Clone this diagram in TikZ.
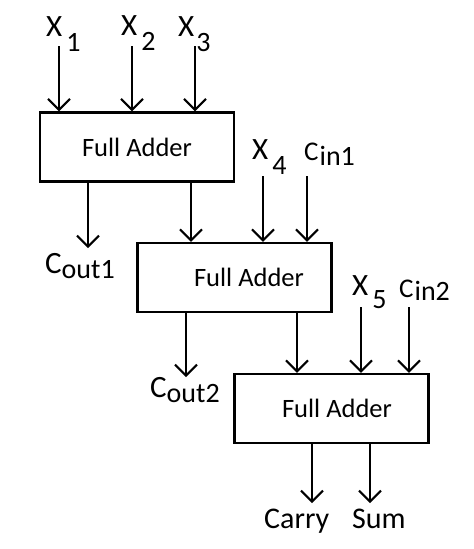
\documentclass[tikz,border=0pt]{standalone}
\usepackage{fontspec}
\setmainfont{Carlito}
\usetikzlibrary{arrows.meta}
\newcommand{\subsz}{\fontsize{28}{32}\selectfont}
\begin{document}
\begin{tikzpicture}[x=1pt,y=-1pt,
  box/.style={draw, line width=2.4pt, minimum width=194pt, minimum height=69pt, inner sep=0pt},
  fatext/.style={font=\fontsize{26.5}{30}\selectfont, inner sep=0pt},
  lbl/.style={font=\fontsize{31}{36}\selectfont, inner sep=0pt, anchor=base west},
  wlbl/.style={font=\fontsize{30}{34}\selectfont, inner sep=0pt, anchor=base west},
  clbl/.style={font=\fontsize{31}{36}\selectfont, inner sep=0pt, anchor=base west},
  cinlbl/.style={font=\fontsize{27}{32}\selectfont, inner sep=0pt, anchor=base west},
  arr/.style={line width=2pt, -{Straight Barb[length=11pt,width=22pt,line width=2pt]}}]
\useasboundingbox (0,0) rectangle (474,549);
% boxes
\node[box] (fa1) at (137,147) {};
\node[box] (fa2) at (234.5,277.5) {};
\node[box] (fa3) at (331.5,408.5) {};
\node[fatext] (t1) at (137,147) {Full Adder};
\node[fatext] (t2) at (249,277) {Full Adder};
\node[fatext] (t3) at (337,408) {Full Adder};
% input labels
\node[lbl] (x1) at (46,36) {X\hspace{4pt}\raisebox{-15pt}{\subsz 1}};
\node[lbl] (x2) at (121,35) {X\hspace{4pt}\raisebox{-15pt}{\subsz 2}};
\node[lbl] (x3) at (178,36) {X\hspace{2pt}\raisebox{-15pt}{\subsz 3}};
\node[lbl] (x4) at (252,159) {X\hspace{4pt}\raisebox{-15pt}{\subsz 4}};
\node[lbl] (x5) at (352,295) {X\hspace{4pt}\raisebox{-13pt}{\subsz 5}};
\node[cinlbl] (cin1) at (304,160) {C\hspace{1pt}\raisebox{-5pt}{\subsz in1}};
\node[cinlbl] (cin2) at (399,297) {C\hspace{1pt}\raisebox{-3pt}{\subsz in2}};
\node[clbl] (cout1) at (45,273) {C\raisebox{-5pt}{\subsz out1}};
\node[clbl] (cout2) at (150,397) {C\raisebox{-5pt}{\subsz out2}};
\node[wlbl] (carry) at (264,528) {Carry};
\node[wlbl] (sum) at (352,528) {Sum};
% arrow start / end points
\coordinate (a1) at (59,46);
\coordinate (a2) at (132,46);
\coordinate (a3) at (195,46);
\coordinate (a4) at (263,176);
\coordinate (a5) at (307,176);
\coordinate (a6) at (361,307);
\coordinate (a7) at (409,307);
\coordinate (o1) at (88,182);
\coordinate (e1) at (88,248);
\coordinate (o2) at (191,182);
\coordinate (o3) at (186,312);
\coordinate (e3) at (186,377);
\coordinate (o4) at (297,312);
\coordinate (o5) at (312,443);
\coordinate (e5) at (312,503);
\coordinate (o6) at (370,443);
\coordinate (e6) at (370,503);
% connectors
\draw[arr] (a1) -- (a1 |- fa1.north);
\draw[arr] (a2) -- (a2 |- fa1.north);
\draw[arr] (a3) -- (a3 |- fa1.north);
\draw[arr] (o1 |- fa1.south) -- (e1);
\draw[arr] (o2 |- fa1.south) -- (o2 |- fa2.north);
\draw[arr] (a4) -- (a4 |- fa2.north);
\draw[arr] (a5) -- (a5 |- fa2.north);
\draw[arr] (o3 |- fa2.south) -- (e3);
\draw[arr] (o4 |- fa2.south) -- (o4 |- fa3.north);
\draw[arr] (a6) -- (a6 |- fa3.north);
\draw[arr] (a7) -- (a7 |- fa3.north);
\draw[arr] (o5 |- fa3.south) -- (e5);
\draw[arr] (o6 |- fa3.south) -- (e6);
\end{tikzpicture}
\end{document}
